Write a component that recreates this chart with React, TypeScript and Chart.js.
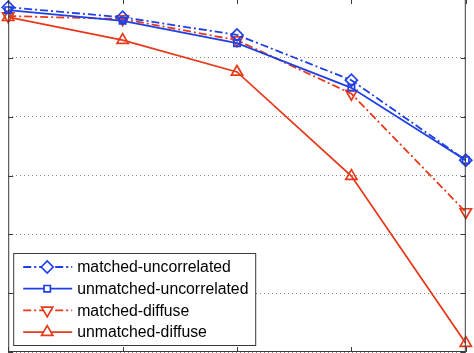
import React, { useEffect, useRef } from 'react';
import { Chart, registerables } from 'chart.js';
import { drawPoint } from 'chart.js/helpers';

Chart.register(...registerables);

const categories = ['1', '2', '3', '4', '5'];
const matchedUncorrelated = [5.86, 5.69, 5.39, 4.62, 3.26];
const unmatchedUncorrelated = [5.81, 5.63, 5.25, 4.49, 3.26];
const matchedDiffuse = [5.71, 5.66, 5.3, 4.39, 2.38];
const unmatchedDiffuse = [5.69, 5.3, 4.76, 2.99, 0.15];
const seriesNames = ['matched-uncorrelated', 'unmatched-uncorrelated', 'matched-diffuse', 'unmatched-diffuse'];

const BLUE = '#1f40e6';
const RED = '#e63a1a';
const DASHDOT = [8, 3, 2, 3];

const framePlugin = {
  id: 'matlabFrame',
  afterDatasetsDraw(chart: any) {
    const { ctx, chartArea } = chart;
    const { left, right, top, bottom } = chartArea;
    const xs = chart.scales.x;
    const ys = chart.scales.y;
    ctx.save();
    ctx.strokeStyle = '#3a3a3a';
    ctx.lineWidth = 1;
    ctx.setLineDash([]);
    ctx.strokeRect(left + 0.5, top + 0.5, right - left - 1, bottom - top - 1);
    const tl = 5;
    ctx.beginPath();
    xs.ticks.forEach((t: any, i: number) => {
      const px = Math.round(xs.getPixelForTick(i)) + 0.5;
      ctx.moveTo(px, bottom);
      ctx.lineTo(px, bottom - tl);
      ctx.moveTo(px, top);
      ctx.lineTo(px, top + tl);
    });
    ys.ticks.forEach((t: any) => {
      const py = Math.round(ys.getPixelForValue(t.value)) + 0.5;
      ctx.moveTo(left, py);
      ctx.lineTo(left + tl, py);
      ctx.moveTo(right, py);
      ctx.lineTo(right - tl, py);
    });
    ctx.stroke();
    ctx.restore();
  },
};

const legendPlugin = {
  id: 'matlabLegend',
  afterDraw(chart: any) {
    const { ctx, chartArea } = chart;
    const bx = chartArea.left + 5;
    const bw = 242;
    const bh = 92;
    const by = chartArea.bottom - 7 - bh;
    ctx.save();
    ctx.fillStyle = '#ffffff';
    ctx.fillRect(bx, by, bw, bh);
    ctx.strokeStyle = '#3a3a3a';
    ctx.lineWidth = 1;
    ctx.setLineDash([]);
    ctx.strokeRect(bx + 0.5, by + 0.5, bw, bh);
    chart.data.datasets.forEach((ds: any, i: number) => {
      const cy = by + 14 + i * 21.7;
      ctx.strokeStyle = ds.borderColor;
      ctx.lineWidth = ds.borderWidth;
      ctx.setLineDash(ds.borderDash || []);
      ctx.beginPath();
      ctx.moveTo(bx + 10, cy);
      ctx.lineTo(bx + 59, cy);
      ctx.stroke();
      ctx.setLineDash([]);
      ctx.fillStyle = '#ffffff';
      ctx.strokeStyle = ds.borderColor;
      ctx.lineWidth = ds.pointBorderWidth;
      drawPoint(ctx, {
        pointStyle: ds.pointStyle,
        radius: ds.pointRadius,
        rotation: ds.pointRotation || 0,
        borderWidth: ds.pointBorderWidth,
      }, bx + 34, cy);
      ctx.fillStyle = '#000000';
      ctx.font = '15.8px "Liberation Sans", Arial, sans-serif';
      ctx.textBaseline = 'middle';
      ctx.textAlign = 'left';
      ctx.fillText(ds.label, bx + 64, cy + 1);
    });
    ctx.restore();
  },
};

export default function App() {
  const ref = useRef<HTMLCanvasElement | null>(null);
  useEffect(() => {
    if (!ref.current) return;
    const mk = (label: string, data: number[], color: string, dash: number[], style: string, radius: number, rot = 0) => ({
      label,
      data,
      borderColor: color,
      backgroundColor: 'rgba(0,0,0,0)',
      borderWidth: 1.8,
      borderDash: dash,
      pointStyle: style,
      pointRadius: radius,
      pointRotation: rot,
      pointBorderWidth: 1.7,
      pointBorderColor: color,
      pointBackgroundColor: 'rgba(0,0,0,0)',
      tension: 0,
      clip: false as any,
    });
    const chart = new Chart(ref.current, {
      type: 'line',
      data: {
        labels: categories,
        datasets: [
          mk(seriesNames[0], matchedUncorrelated, BLUE, DASHDOT, 'rectRot', 6),
          mk(seriesNames[1], unmatchedUncorrelated, BLUE, [], 'rect', 4.5),
          mk(seriesNames[2], matchedDiffuse, RED, DASHDOT, 'triangle', 6.5, 180),
          mk(seriesNames[3], unmatchedDiffuse, RED, [], 'triangle', 6.5),
        ],
      },
      options: {
        animation: false,
        responsive: true,
        maintainAspectRatio: false,
        layout: { padding: { left: 6, right: 7, top: 9, bottom: 11 } },
        plugins: { legend: { display: false }, tooltip: { enabled: false } },
        scales: {
          x: {
            type: 'category',
            offset: false,
            grid: { display: false, drawTicks: false },
            border: { display: false },
            ticks: { display: false },
          },
          y: {
            min: 0,
            max: 6,
            grid: { color: '#8a8a8a', lineWidth: 1, drawTicks: false },
            border: { display: false, dash: [1, 3] },
            ticks: { display: false, stepSize: 1 },
          },
        },
      },
      plugins: [framePlugin, legendPlugin],
    });
    return () => chart.destroy();
  }, []);
  return (
    <div style={{ position: 'fixed', left: 0, top: -10, width: 474, height: 373, background: '#fff' }}>
      <canvas ref={ref} />
    </div>
  );
}
